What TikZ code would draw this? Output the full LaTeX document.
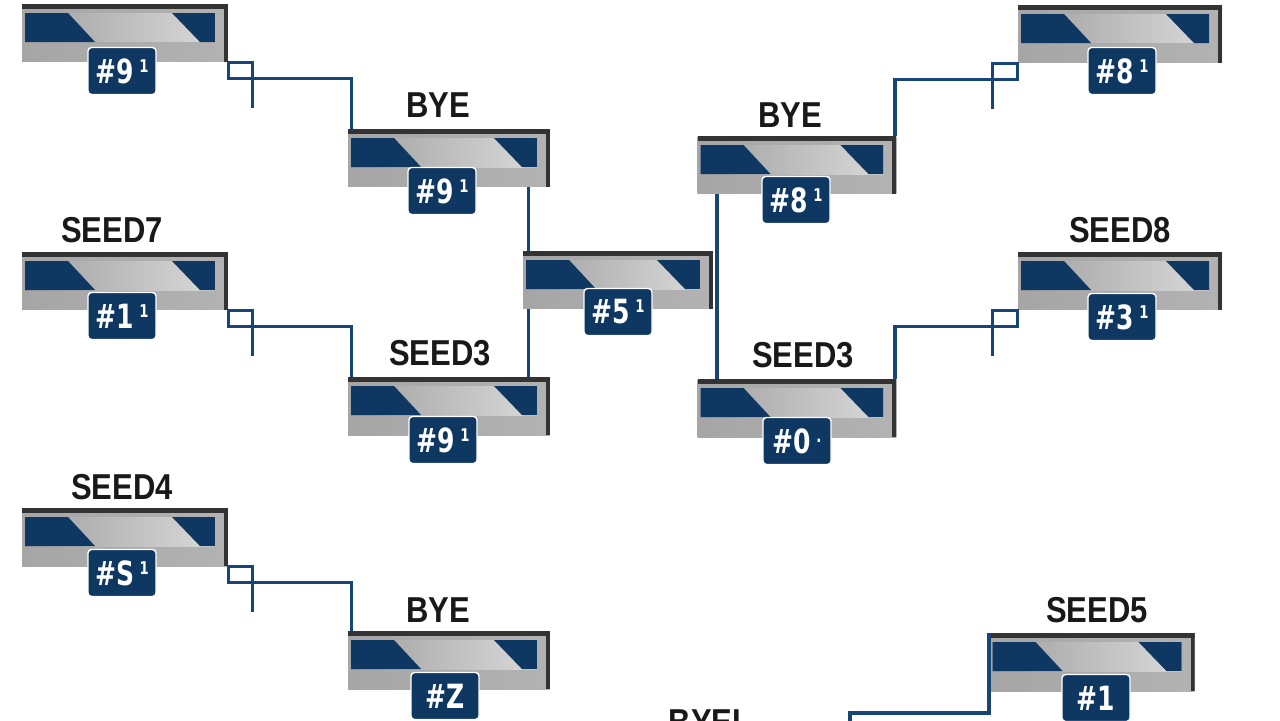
\documentclass[tikz,border=0pt]{standalone}
\usepackage{fontspec}
\newfontfamily\tagfont[FakeStretch=0.86]{Liberation Sans}
\newfontfamily\badgefont[FakeStretch=0.75]{DejaVu Sans}
\definecolor{navy}{HTML}{0E3762}
\definecolor{wireblue}{HTML}{174577}
\newcommand\seedno[2]{\#{#1}\,\raisebox{.6ex}{\fontsize{10}{10}\selectfont #2}}

\begin{document}
\begin{tikzpicture}[x=0.02cm, y=-0.02cm,
	slot/.style={minimum width=#1, minimum height=1.16cm, inner sep=0pt,
		left color=gray!70, middle color=gray!20, right color=gray!60,
		path picture={
			\coordinate (nw) at (path picture bounding box.north west);
			\coordinate (ne) at (path picture bounding box.north east);
			\shade[left color=gray!75, right color=gray!30] (nw) ++(3,9) rectangle ([xshift=-0.26cm, yshift=-0.76cm]ne);
			\fill[navy] (nw) ++(3,9) -- ++(43,0) -- ++(27,29) -- ++(-70,0) -- cycle;
			\fill[navy] (ne) ++(-56,9) -- ++(43,0) -- ++(0,29) -- ++(-15,0) -- cycle;
			\fill[black!80] (nw) rectangle ([yshift=-0.1cm]ne);
			\fill[black!80] (path picture bounding box.south east) rectangle ([xshift=-0.08cm]ne);
		}},
	badge/.style={fill=navy, draw=white, line width=0.8pt, rounded corners=2pt, minimum width=1.36cm, minimum height=0.94cm, inner sep=0pt, text=white, font=\badgefont\bfseries\fontsize{19}{19}\selectfont},
	tag/.style={inner sep=0pt, text=black!90, font=\tagfont\bfseries\fontsize{20.5}{20.5}\selectfont},
	wire/.style={wireblue, line width=2pt}]
	\useasboundingbox (0,0) rectangle (1280,720);
	\clip (0,0) rectangle (1280,720);
	\fill[white] (0,0) rectangle (1280,720);

	\node[slot=4.12cm] (l1) at (125,33) {};
	\node[slot=4.12cm] (l2) at (125,281) {};
	\node[slot=4.12cm] (l3) at (125,537) {};

	\draw[wire] (l1.south east) rectangle ++(24,16);
	\draw[wire] (l1.south east) ++(24,0) -- ++(0,46);
	\draw[wire] (l2.south east) rectangle ++(24,16);
	\draw[wire] (l2.south east) ++(24,0) -- ++(0,46);
	\draw[wire] (l3.south east) rectangle ++(24,16);
	\draw[wire] (l3.south east) ++(24,0) -- ++(0,46);

	\node[slot=4.04cm] (m1) at (449,158) {};
	\node[slot=4.04cm] (m2) at (449,406) {};
	\node[slot=4.04cm] (m3) at (449,660) {};

	\draw[wire] (l1.south east) ++(0,16) -| ([xshift=0.08cm]m1.north west);
	\draw[wire] (l2.south east) ++(0,16) -| ([xshift=0.08cm]m2.north west);
	\draw[wire] (l3.south east) ++(0,16) -| ([xshift=0.08cm]m3.north west);

	\node[slot=4.08cm] (rr1) at (1120,34) {};
	\node[slot=4.08cm] (rr2) at (1120,281) {};

	\draw[wire] (rr1.south west) rectangle ++(-25,16);
	\draw[wire] (rr1.south west) ++(-25,0) -- ++(0,46);
	\draw[wire] (rr2.south west) rectangle ++(-25,16);
	\draw[wire] (rr2.south west) ++(-25,0) -- ++(0,46);

	\node[slot=3.98cm] (r1) at (797,165) {};
	\node[slot=3.98cm] (r2) at (797,408) {};

	\draw[wire] (rr1.south west) ++(0,16) -| ([xshift=-0.04cm]r1.north east);
	\draw[wire] (rr2.south west) ++(0,16) -| ([xshift=-0.04cm]r2.north east);

	% middle
	\draw[wire] ([xshift=-0.44cm]m1.south east) -- ([xshift=-0.44cm]m2.north east);
	\draw[wire] ([xshift=0.4cm]r1.south west) -- ([xshift=0.4cm]r2.north west);
	\node[slot=3.8cm] (final) at (618,280) {};

	\node[slot=4.1cm] (rr3) at (1092,662) {};
	\coordinate (bye-in) at (850,713);
	\draw[wire] (rr3.north west) |- (bye-in) -- ++(0,20);

	\node[badge] (l1-no) at (122,71) {\seedno{9}{1}};
	\node[badge] (l2-no) at (122,316) {\seedno{1}{1}};
	\node[badge] (l3-no) at (122,573) {\seedno{S}{1}};
	\node[badge] (m1-no) at (442,191) {\seedno{9}{1}};
	\node[badge] (m2-no) at (443,440) {\seedno{9}{1}};
	\node[badge] (m3-no) at (445,696) {\#Z};
	\node[badge] (final-no) at (618,312) {\seedno{5}{1}};
	\node[badge] (r1-no) at (796,200) {\seedno{8}{1}};
	\node[badge] (r2-no) at (797,441) {\seedno{0}{.}};
	\node[badge] (rr1-no) at (1122,71) {\seedno{8}{1}};
	\node[badge] (rr2-no) at (1122,317) {\seedno{3}{1}};
	\node[badge] (rr3-no) at (1096,698) {\#1};

	\node[tag] (l2-tag) at (112,230) {SEED7};
	\node[tag] (l3-tag) at (122,487) {SEED4};
	\node[tag] (m1-tag) at (438,105) {BYE};
	\node[tag] (m2-tag) at (440,353) {SEED3};
	\node[tag] (m3-tag) at (438,610) {BYE};
	\node[tag] (r1-tag) at (790,115) {BYE};
	\node[tag] (r2-tag) at (803,355) {SEED3};
	\node[tag] (rr2-tag) at (1120,230) {SEED8};
	\node[tag] (rr3-tag) at (1097,610) {SEED5};
	\node[tag] (bye-tag) at (705,722) {BYEI};
\end{tikzpicture}
\end{document}
